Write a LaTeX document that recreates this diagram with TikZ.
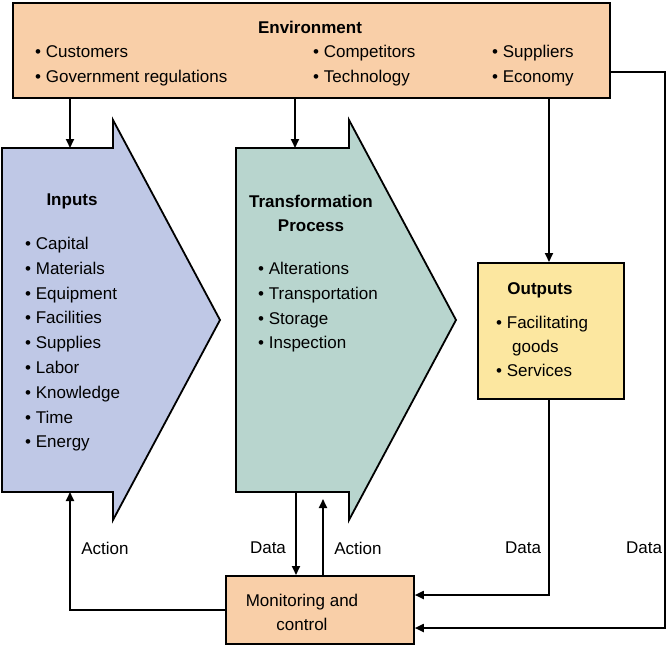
\documentclass[tikz,border=0pt]{standalone}
\usepackage{fontspec}
\setmainfont{Liberation Sans}
\usetikzlibrary{arrows.meta}
\definecolor{envc}{HTML}{F9CFA8}
\definecolor{inc}{HTML}{BFC8E6}
\definecolor{trc}{HTML}{B8D5CE}
\definecolor{outc}{HTML}{FCE7A0}
\begin{document}
\begin{tikzpicture}[x=1pt,y=-1pt,
  ln/.style={line width=1.8pt},
  arr/.style={ln,-{Triangle[length=9pt,width=8pt]}},
  txt/.style={font=\fontsize{17}{20}\selectfont,inner sep=0pt},
  ttl/.style={txt,font=\fontsize{17}{20}\selectfont\bfseries},
  item/.style={txt,anchor=base west},
  box/.style={ln,draw=black}]
\useasboundingbox (0,0) rectangle (672,648);
% environment
\node[box,fill=envc,minimum width=597pt,minimum height=95pt,anchor=north west] (env) at (12,2) {};
\node[ttl] (envt) at (310,27) {Environment};
\foreach \x/\y/\t [count=\i] in {35/57/Customers,35/82/Government regulations,313/57/Competitors,313/82/Technology,492/57/Suppliers,492/82/Economy}
  \node[item] (e\i) at (\x,\y) {\textbullet\ \t};
% inputs arrow shape
\draw[ln,fill=inc] (2,148) -- (113,148) -- (113,120) -- (220,320) -- (113,520) -- (113,492) -- (2,492) -- cycle;
\coordinate (inT) at (70,148); \coordinate (inB) at (70,492);
\node[ttl] (int) at (72,201) {Inputs};
\foreach \t [count=\i] in {Capital,Materials,Equipment,Facilities,Supplies,Labor,Knowledge,Time,Energy}
  \node[item] (i\i) at (25,{249.5+24.8*(\i-1)}) {\textbullet\ \t};
% transformation shape
\draw[ln,fill=trc] (236,148) -- (349,148) -- (349,120) -- (456,320) -- (349,520) -- (349,492) -- (236,492) -- cycle;
\coordinate (trT) at (295,148); \coordinate (trB1) at (296,492); \coordinate (trB2) at (323,492);
\node[ttl,align=center] (trt) at (311,213) {Transformation\\[4pt]Process};
\foreach \t [count=\i] in {Alterations,Transportation,Storage,Inspection}
  \node[item] (t\i) at (258,{274.5+24.8*(\i-1)}) {\textbullet\ \t};
% outputs
\node[box,fill=outc,minimum width=146pt,minimum height=136pt,anchor=north west] (out) at (477,262) {};
\node[ttl] (outt) at (540,290) {Outputs};
\node[item] (o1) at (496,328.5) {\textbullet\ Facilitating};
\node[item] (o2) at (512,352.5) {goods};
\node[item] (o3) at (496,376.5) {\textbullet\ Services};
% monitoring
\node[box,fill=envc,minimum width=188pt,minimum height=68pt,anchor=north west] (mon) at (225,575) {};
\node[txt,align=center] (mont) at (302,612) {Monitoring and\\[4pt]control};
% connectors
\draw[arr] (env.south -| inT) -- (inT);
\draw[arr] (env.south -| trT) -- (trT);
\draw[arr] (env.south -| 549,0) -- (out.north -| 549,0);
\draw[arr] (trB1) -- (mon.north -| trB1);
\draw[arr] (mon.north -| trB2) -- (323,499);
\draw[arr] (mon.west |- 0,610) -- (70,610) -- (inB);
\draw[arr] (out.south -| 549,0) -- (549,595) -- (mon.east |- 0,595);
\draw[arr] (env.east |- 0,72) -- (665,72) -- (665,628) -- (mon.east |- 0,628);
% labels
\node[txt] (l1) at (105,548) {Action};
\node[txt] (l2) at (268,548) {Data};
\node[txt] (l3) at (358,548) {Action};
\node[txt] (l4) at (523,548) {Data};
\node[txt] (l5) at (644,548) {Data};
\end{tikzpicture}
\end{document}
